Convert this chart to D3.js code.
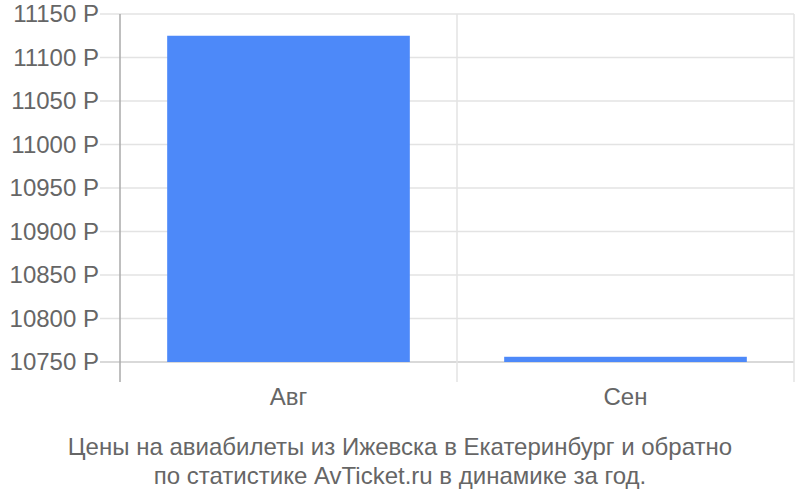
<!DOCTYPE html>
<html>
<head>
<meta charset="utf-8">
<script src="https://d3js.org/d3.v7.min.js"></script>
<style>
  body { margin: 0; background: #fff; }
  text { font-family: "Liberation Sans", Arial, sans-serif; fill: #666; }
</style>
</head>
<body>
<div id="chart"></div>
<script>

// data
const months = ["Авг", "Сен"];
const prices = [11125, 10756];
const yTicks = [10750, 10800, 10850, 10900, 10950, 11000, 11050, 11100, 11150];
const titleLines = [
  "Цены на авиабилеты из Ижевска в Екатеринбург и обратно",
  "по статистике AvTicket.ru в динамике за год."
];

const width = 800, height = 500;
const margin = {top: 14, right: 6, bottom: 138, left: 120};

const svg = d3.select("#chart")
  .append("svg")
    .attr("width", width)
    .attr("height", height);

const x = d3.scaleBand()
    .domain(months)
    .range([margin.left, width - margin.right])
    .paddingInner(0.28)
    .paddingOuter(0.14);

// band edges for the vertical grid lines
const step = (width - margin.right - margin.left) / months.length;

const y = d3.scaleLinear()
    .domain([10750, 11150])
    .range([height - margin.bottom, margin.top]);

// horizontal grid lines + tick marks
svg.append("g")
  .selectAll("line")
  .data(yTicks)
  .join("line")
    .attr("x1", margin.left - 20)
    .attr("x2", width - margin.right)
    .attr("y1", d => y(d))
    .attr("y2", d => y(d))
    .attr("stroke", d => d == 10750 ? "#ccc" : "#e3e3e3")
    .attr("stroke-width", 1.5);

// vertical grid lines
svg.append("g")
  .selectAll("line")
  .data(d3.range(months.length + 1))
  .join("line")
    .attr("x1", i => margin.left + i * step)
    .attr("x2", i => margin.left + i * step)
    .attr("y1", margin.top)
    .attr("y2", height - margin.bottom + 20)
    .attr("stroke", i => i == 0 ? "#aaa" : "#e3e3e3")
    .attr("stroke-width", 1.5);

// bars
svg.append("g")
  .selectAll("rect")
  .data(months)
  .join("rect")
    .attr("x", d => x(d))
    .attr("width", x.bandwidth())
    .attr("y", (d, i) => y(prices[i]))
    .attr("height", (d, i) => y(10750) - y(prices[i]))
    .attr("fill", "#4d89f9");

// y labels
svg.append("g")
  .selectAll("text")
  .data(yTicks)
  .join("text")
    .attr("x", margin.left - 21)
    .attr("y", d => y(d))
    .attr("dy", "0.35em")
    .attr("text-anchor", "end")
    .style("font-size", "24px")
    .text(d => d + " Р");

// x labels
svg.append("g")
  .selectAll("text")
  .data(months)
  .join("text")
    .attr("x", d => x(d) + x.bandwidth() / 2)
    .attr("y", 405)
    .attr("text-anchor", "middle")
    .style("font-size", "24px")
    .text(d => d);

// caption
svg.append("g")
  .selectAll("text")
  .data(titleLines)
  .join("text")
    .attr("x", width / 2)
    .attr("y", (d, i) => 455 + i * 29)
    .attr("text-anchor", "middle")
    .style("font-size", "24px")
    .text(d => d);

</script>
</body>
</html>
